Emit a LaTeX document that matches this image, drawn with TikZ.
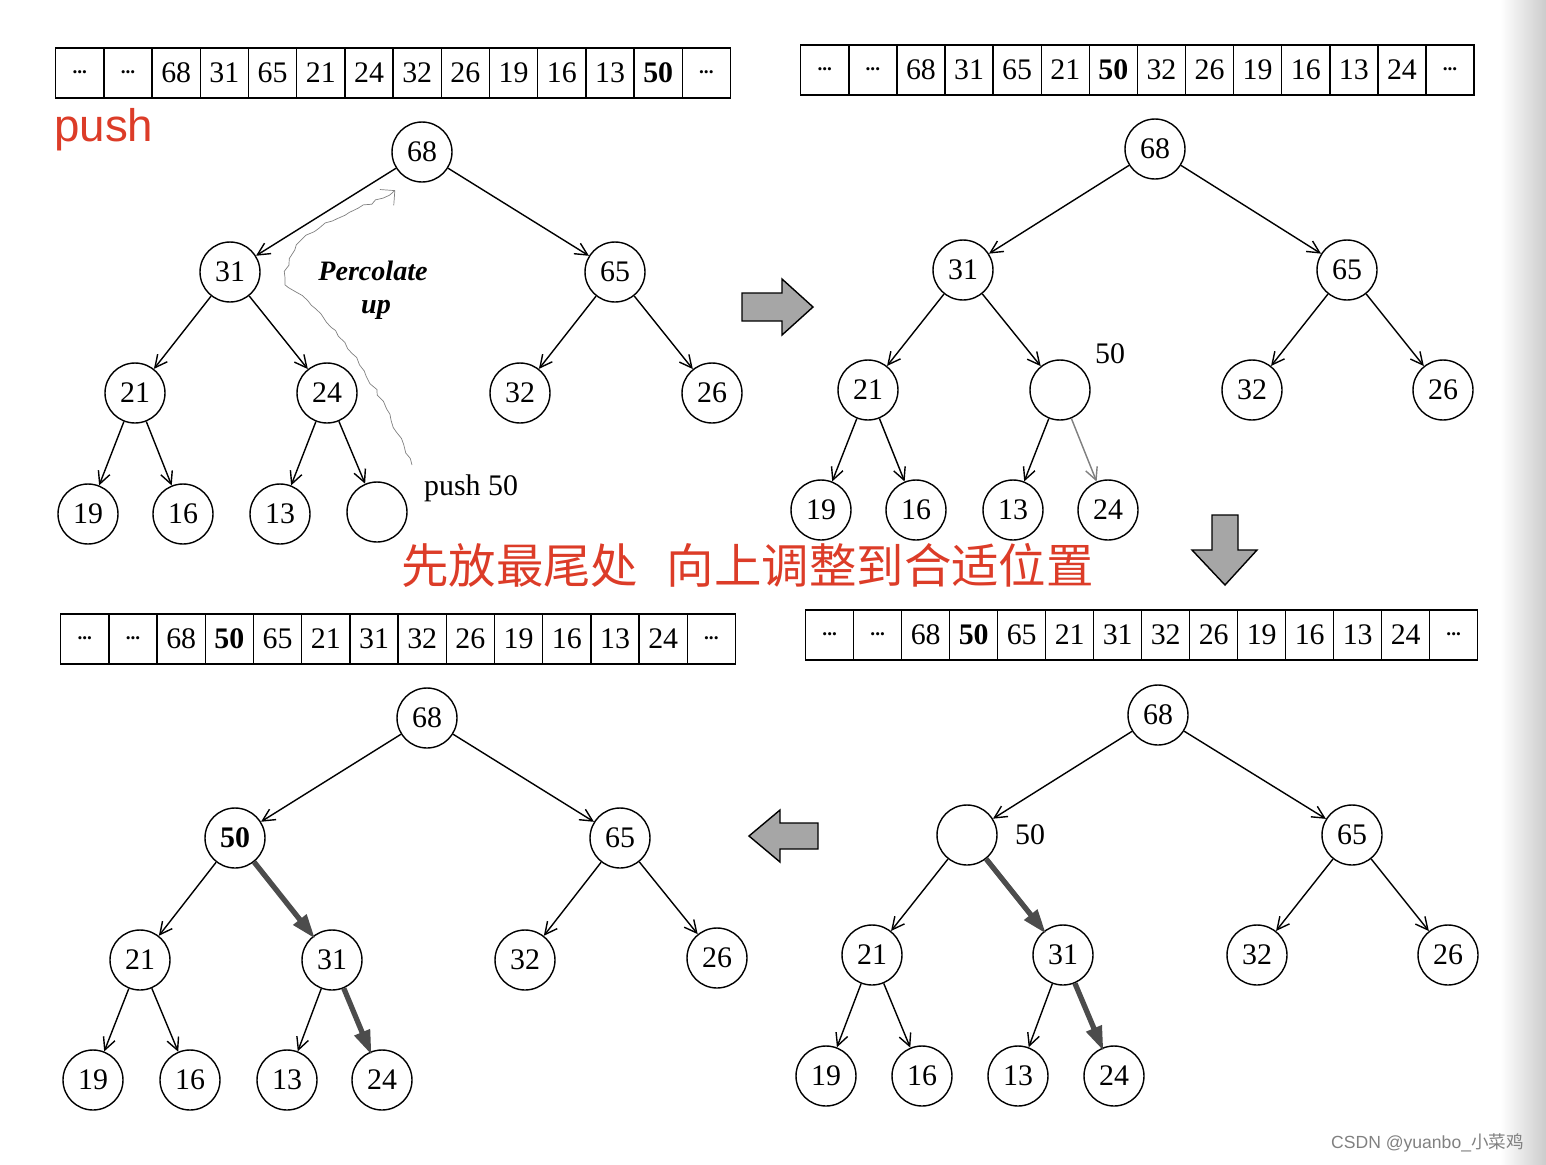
\documentclass[tikz,border=0pt]{standalone}
\usepackage{fontspec}
\setmainfont{Liberation Serif}
\newfontfamily\cjk{Noto Sans CJK SC}
\newfontfamily\sans{Liberation Sans}
\usetikzlibrary{arrows.meta,decorations.pathmorphing,calc}
\definecolor{redt}{RGB}{220,60,40}
\newcommand{\dd}{\raisebox{0.1ex}{\bfseries\fontsize{11}{11}\selectfont...}}
\newcommand{\arr}[4]{%
  \foreach \t [count=\i from 0] in {#4}{
    \node[cell,minimum width=#3*0.02cm] (#1c\i) at ($(#2)+(\i*#3,0)$) {\t};}}
\begin{document}
\begin{tikzpicture}[x=0.02cm,y=-0.02cm,
  nd/.style={circle,draw,thick,minimum size=1.2cm,inner sep=0pt,font=\fontsize{17}{17}\selectfont},
  ed/.style={-{Straight Barb[length=7pt,width=7pt]},thick},
  hv/.style={-{Triangle[length=14pt,width=9pt]},line width=3pt,gray!60!black,shorten >=-2pt},
  cell/.style={draw,thick,minimum height=1cm,inner sep=0pt,anchor=west,font=\fontsize{17}{17}\selectfont},
  blk/.style={fill=gray!70,draw=black,thick}]
\useasboundingbox (0,0) rectangle (1546,1164);
\shade[left color=white,right color=gray!40] (1500,0) rectangle (1546,1164);
% arrays
\arr{a}{55,73}{48.2}{\dd,\dd,68,31,65,21,24,32,26,19,16,13,\textbf{50},\dd}
\arr{b}{800,70}{48.1}{\dd,\dd,68,31,65,21,\textbf{50},32,26,19,16,13,24,\dd}
\arr{c}{60,639}{48.2}{\dd,\dd,68,\textbf{50},65,21,31,32,26,19,16,13,24,\dd}
\arr{d}{805,635}{48}{\dd,\dd,68,\textbf{50},65,21,31,32,26,19,16,13,24,\dd}
% tree TL
\node[nd] (a1) at (422,152) {68};
\node[nd] (a2) at (230,272) {31};
\node[nd] (a3) at (615,272) {65};
\node[nd] (a4) at (135,393) {21};
\node[nd] (a5) at (327,393) {24};
\node[nd] (a6) at (520,393) {32};
\node[nd] (a7) at (712,393) {26};
\node[nd] (a8) at (88,514) {19};
\node[nd] (a9) at (183,514) {16};
\node[nd] (a10) at (280,514) {13};
\node[nd] (a11) at (377,512) {};
\foreach \p/\c in {1/2,1/3,2/4,2/5,3/6,3/7,4/8,4/9,5/10,5/11} \draw[ed] (a\p) -- (a\c);
\node[font=\fontsize{17}{17}\selectfont,anchor=west] (ap) at (418,488) {push 50};
\coordinate (w1) at (412,465);
\coordinate (wm) at (285,285);
\coordinate (w2) at (395,190);
\draw[gray,decorate,decoration={random steps,segment length=4pt,amplitude=1pt},-{Straight Barb[length=6pt]}]
  (w1) .. controls (385,400) and (340,320) .. (wm) .. controls (285,220) and (360,215) .. (w2);
\node[font=\fontsize{16}{18}\selectfont\bfseries\itshape] (perc) at (373,271) {Percolate};
\node[font=\fontsize{16}{18}\selectfont\bfseries\itshape] (percu) at (376,310) {up};
% tree TR
\node[nd] (b1) at (1155,149) {68};
\node[nd] (b2) at (963,270) {31};
\node[nd] (b3) at (1347,270) {65};
\node[nd] (b4) at (868,390) {21};
\node[nd] (b5) at (1060,390) {};
\node[nd] (b6) at (1252,390) {32};
\node[nd] (b7) at (1443,390) {26};
\node[nd] (b8) at (821,510) {19};
\node[nd] (b9) at (916,510) {16};
\node[nd] (b10) at (1013,510) {13};
\node[nd] (b11) at (1108,510) {24};
\foreach \p/\c in {1/2,1/3,2/4,2/5,3/6,3/7,4/8,4/9,5/10} \draw[ed] (b\p) -- (b\c);
\draw[ed,gray] (b5) -- (b11);
\node[font=\fontsize{17}{17}\selectfont] (b50) at (1110,354) {50};
% tree BL
\node[nd] (c1) at (427,718) {68};
\node[nd] (c2) at (235,838) {\textbf{50}};
\node[nd] (c3) at (620,838) {65};
\node[nd] (c4) at (140,960) {21};
\node[nd] (c5) at (332,960) {31};
\node[nd] (c6) at (525,960) {32};
\node[nd] (c7) at (717,958) {26};
\node[nd] (c8) at (93,1080) {19};
\node[nd] (c9) at (190,1080) {16};
\node[nd] (c10) at (287,1080) {13};
\node[nd] (c11) at (382,1080) {24};
\foreach \p/\c in {1/2,1/3,2/4,3/6,3/7,4/8,4/9,5/10} \draw[ed] (c\p) -- (c\c);
\draw[hv] (c2) -- (c5);
\draw[hv] (c5) -- (c11);
% tree BR
\node[nd] (d1) at (1158,715) {68};
\node[nd] (d2) at (967,835) {};
\node[nd] (d3) at (1352,835) {65};
\node[nd] (d4) at (872,955) {21};
\node[nd] (d5) at (1063,955) {31};
\node[nd] (d6) at (1257,955) {32};
\node[nd] (d7) at (1448,955) {26};
\node[nd] (d8) at (826,1076) {19};
\node[nd] (d9) at (922,1076) {16};
\node[nd] (d10) at (1018,1076) {13};
\node[nd] (d11) at (1114,1076) {24};
\foreach \p/\c in {1/2,1/3,2/4,3/6,3/7,4/8,4/9,5/10} \draw[ed] (d\p) -- (d\c);
\draw[hv] (d2) -- (d5);
\draw[hv] (d5) -- (d11);
\node[font=\fontsize{17}{17}\selectfont] (d50) at (1030,835) {50};
% block arrows
\draw[blk] (742,293) -- (782,293) -- (782,279) -- (813,307) -- (782,335) -- (782,321) -- (742,321) -- cycle;
\draw[blk] (1212,515) -- (1238,515) -- (1238,550) -- (1257,550) -- (1225,585) -- (1192,550) -- (1212,550) -- cycle;
\draw[blk] (818,823) -- (780,823) -- (780,810) -- (749,836) -- (780,862) -- (780,849) -- (818,849) -- cycle;
% red texts
\node[text=redt,font=\sans\fontsize{26}{26}\selectfont,anchor=west] (push) at (48,130) {push};
\node[text=redt,font=\cjk\fontsize{27}{27}\selectfont,anchor=west] (cn) at (395,565) {先放最尾处\hspace{0.6em}向上调整到合适位置};
\node[text=gray,font=\sans\fontsize{10}{10}\selectfont,anchor=east] (wmk) at (1530,1143) {CSDN @yuanbo\_{\cjk 小菜鸡}};
\end{tikzpicture}
\end{document}
